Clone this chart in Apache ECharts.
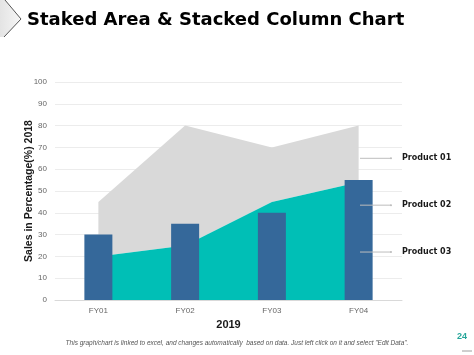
<!DOCTYPE html>
<html>
<head>
<meta charset="utf-8">
<script src="https://cdn.jsdelivr.net/npm/echarts@6/dist/echarts.min.js"></script>
<style>
html,body{margin:0;padding:0;background:#fff;}
#c{width:474px;height:355px;}
</style>
</head>
<body>
<div id="c"></div>
<script>
// ---- data ----
var categories = ['FY01', 'FY02', 'FY03', 'FY04'];
var columnValues = [30, 35, 40, 55];              // stacked column (blue)
var areaBaseValues = [20, 25, 45, 54];            // lower stacked area (teal)
var areaTopValues = [25, 55, 25, 26];             // upper stacked area (grey), stacked on teal
var yTicks = [0, 10, 20, 30, 40, 50, 60, 70, 80, 90, 100];
var productLabels = ['Product 01', 'Product 02', 'Product 03'];
var productLabelLevels = [65, 43.5, 22];          // y levels of the annotation pointers

var chart = echarts.init(document.getElementById('c'), null, {renderer: 'canvas'});

var option = {
  animation: false,
  backgroundColor: '#ffffff',
  grid: {left: 55, right: 72, top: 82, bottom: 55, containLabel: false},
  xAxis: {
    type: 'category',
    data: categories,
    boundaryGap: true,
    name: '2019',
    nameLocation: 'middle',
    nameGap: 15,
    nameTextStyle: {fontFamily: 'Liberation Sans', fontWeight: 'bold', fontSize: 11, color: '#1a1a1a'},
    axisLine: {show: true, lineStyle: {color: '#d9d9d9', width: 1}},
    axisTick: {show: false},
    axisLabel: {fontFamily: 'Liberation Sans', fontSize: 8, color: '#666666', margin: 7}
  },
  yAxis: {
    type: 'value',
    min: yTicks[0],
    max: yTicks[yTicks.length - 1],
    interval: yTicks[1] - yTicks[0],
    name: 'Sales in Percentage(%) 2018',
    nameLocation: 'middle',
    nameRotate: 90,
    nameGap: 20,
    nameMoveOverlap: false,
    nameTextStyle: {fontFamily: 'Liberation Sans', fontWeight: 'bold', fontSize: 10.5, color: '#1a1a1a'},
    axisLine: {show: false},
    axisTick: {show: false},
    axisLabel: {fontFamily: 'Liberation Sans', fontSize: 8, color: '#666666', margin: 8},
    splitLine: {lineStyle: {color: '#ececec', width: 1}}
  },
  series: [
    {
      name: 'Product 03',
      type: 'line',
      stack: 'area',
      data: areaBaseValues,
      symbol: 'none',
      lineStyle: {width: 0},
      areaStyle: {color: '#00bfb6', opacity: 1},
      z: 2
    },
    {
      name: 'Product 01',
      type: 'line',
      stack: 'area',
      data: areaTopValues,
      symbol: 'none',
      lineStyle: {width: 0},
      areaStyle: {color: '#d9d9d9', opacity: 1},
      z: 1
    },
    {
      name: 'Product 02',
      type: 'bar',
      data: columnValues,
      barWidth: 28,
      itemStyle: {color: '#35689a'},
      z: 3
    }
  ]
};
chart.setOption(option);

// annotation pointers and labels, positioned through the y axis scale
var graphics = [];
productLabels.forEach(function (txt, i) {
  var y = chart.convertToPixel({yAxisIndex: 0}, productLabelLevels[i]);
  graphics.push({
    type: 'line', shape: {x1: 360, y1: y, x2: 391, y2: y},
    style: {stroke: '#bdbdbd', lineWidth: 1}, z: 10
  });
  graphics.push({
    type: 'circle', shape: {cx: 391, cy: y, r: 1},
    style: {fill: '#bdbdbd'}, z: 10
  });
  graphics.push({
    type: 'text', x: 402, y: y,
    style: {text: txt, font: 'bold 8px "DejaVu Sans"', fill: '#1a1a1a', textVerticalAlign: 'middle', textAlign: 'left'},
    z: 10
  });
});
// header chevron
graphics.push({
  type: 'polygon',
  shape: {points: [[0, 0], [5, 0], [21, 19], [4, 37], [0, 37]]},
  style: {fill: new echarts.graphic.LinearGradient(0, 0, 1, 0, [{offset: 0, color: '#e4e4e4'}, {offset: 1, color: '#f6f6f6'}])},
  z: 10
});
graphics.push({
  type: 'polyline',
  shape: {points: [[5, 0], [21, 19], [4, 37]]},
  style: {stroke: '#555555', lineWidth: 1, fill: null},
  z: 11
});
// title
graphics.push({
  type: 'text', x: 27, y: 20,
  style: {text: 'Staked Area & Stacked Column Chart', font: 'bold 18px "DejaVu Sans"', fill: '#000000', textVerticalAlign: 'middle'},
  z: 10
});
// footer
graphics.push({
  type: 'text', x: 237, y: 343,
  style: {text: 'This graph/chart is linked to excel, and changes automatically  based on data. Just left click on it and select "Edit Data".', font: 'italic 6.5px "Liberation Sans"', fill: '#555555', textAlign: 'center', textVerticalAlign: 'middle'},
  z: 10
});
graphics.push({
  type: 'text', x: 462, y: 337,
  style: {text: '24', font: 'bold 9px "Liberation Sans"', fill: '#26a69a', textAlign: 'center', textVerticalAlign: 'middle'},
  z: 10
});
graphics.push({
  type: 'line', shape: {x1: 462, y1: 351, x2: 472, y2: 351},
  style: {stroke: '#9e9e9e', lineWidth: 1}, z: 10
});
chart.setOption({graphic: graphics});
</script>
</body>
</html>
